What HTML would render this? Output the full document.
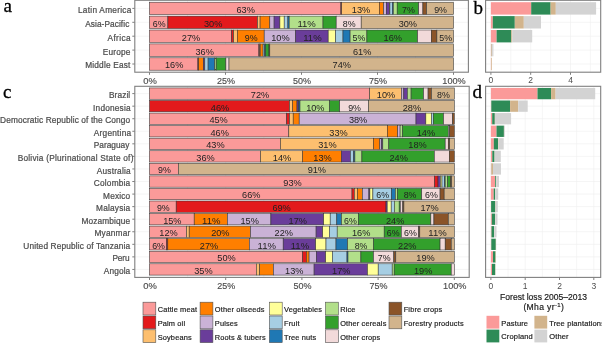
<!DOCTYPE html>
<html><head><meta charset="utf-8"><style>
html,body{margin:0;padding:0;background:#fff;}
body{width:602px;height:343px;overflow:hidden;font-family:"Liberation Sans",sans-serif;}
svg{display:block;will-change:transform;}
</style></head><body>
<svg width="602" height="343" viewBox="0 0 602 343" font-family="'Liberation Sans', sans-serif">
<rect width="602" height="343" fill="#fff"/>
<line x1="134.8" y1="8.4" x2="468.4" y2="8.4" stroke="#EFEFEF" stroke-width="0.6"/>
<line x1="134.8" y1="22.3" x2="468.4" y2="22.3" stroke="#EFEFEF" stroke-width="0.6"/>
<line x1="134.8" y1="36.2" x2="468.4" y2="36.2" stroke="#EFEFEF" stroke-width="0.6"/>
<line x1="134.8" y1="50.1" x2="468.4" y2="50.1" stroke="#EFEFEF" stroke-width="0.6"/>
<line x1="134.8" y1="64" x2="468.4" y2="64" stroke="#EFEFEF" stroke-width="0.6"/>
<line x1="149.5" y1="0.3" x2="149.5" y2="72.2" stroke="#EFEFEF" stroke-width="0.6"/>
<line x1="187.5" y1="0.3" x2="187.5" y2="72.2" stroke="#EFEFEF" stroke-width="0.6"/>
<line x1="225.5" y1="0.3" x2="225.5" y2="72.2" stroke="#EFEFEF" stroke-width="0.6"/>
<line x1="263.5" y1="0.3" x2="263.5" y2="72.2" stroke="#EFEFEF" stroke-width="0.6"/>
<line x1="301.5" y1="0.3" x2="301.5" y2="72.2" stroke="#EFEFEF" stroke-width="0.6"/>
<line x1="339.5" y1="0.3" x2="339.5" y2="72.2" stroke="#EFEFEF" stroke-width="0.6"/>
<line x1="377.5" y1="0.3" x2="377.5" y2="72.2" stroke="#EFEFEF" stroke-width="0.6"/>
<line x1="415.5" y1="0.3" x2="415.5" y2="72.2" stroke="#EFEFEF" stroke-width="0.6"/>
<line x1="453.5" y1="0.3" x2="453.5" y2="72.2" stroke="#EFEFEF" stroke-width="0.6"/>
<line x1="134.8" y1="93.6" x2="469.2" y2="93.6" stroke="#EFEFEF" stroke-width="0.6"/>
<line x1="134.8" y1="106.16" x2="469.2" y2="106.16" stroke="#EFEFEF" stroke-width="0.6"/>
<line x1="134.8" y1="118.72" x2="469.2" y2="118.72" stroke="#EFEFEF" stroke-width="0.6"/>
<line x1="134.8" y1="131.28" x2="469.2" y2="131.28" stroke="#EFEFEF" stroke-width="0.6"/>
<line x1="134.8" y1="143.84" x2="469.2" y2="143.84" stroke="#EFEFEF" stroke-width="0.6"/>
<line x1="134.8" y1="156.4" x2="469.2" y2="156.4" stroke="#EFEFEF" stroke-width="0.6"/>
<line x1="134.8" y1="168.96" x2="469.2" y2="168.96" stroke="#EFEFEF" stroke-width="0.6"/>
<line x1="134.8" y1="181.52" x2="469.2" y2="181.52" stroke="#EFEFEF" stroke-width="0.6"/>
<line x1="134.8" y1="194.08" x2="469.2" y2="194.08" stroke="#EFEFEF" stroke-width="0.6"/>
<line x1="134.8" y1="206.64" x2="469.2" y2="206.64" stroke="#EFEFEF" stroke-width="0.6"/>
<line x1="134.8" y1="219.2" x2="469.2" y2="219.2" stroke="#EFEFEF" stroke-width="0.6"/>
<line x1="134.8" y1="231.76" x2="469.2" y2="231.76" stroke="#EFEFEF" stroke-width="0.6"/>
<line x1="134.8" y1="244.32" x2="469.2" y2="244.32" stroke="#EFEFEF" stroke-width="0.6"/>
<line x1="134.8" y1="256.88" x2="469.2" y2="256.88" stroke="#EFEFEF" stroke-width="0.6"/>
<line x1="134.8" y1="269.44" x2="469.2" y2="269.44" stroke="#EFEFEF" stroke-width="0.6"/>
<line x1="149.5" y1="86.3" x2="149.5" y2="277.4" stroke="#EFEFEF" stroke-width="0.6"/>
<line x1="187.6" y1="86.3" x2="187.6" y2="277.4" stroke="#EFEFEF" stroke-width="0.6"/>
<line x1="225.7" y1="86.3" x2="225.7" y2="277.4" stroke="#EFEFEF" stroke-width="0.6"/>
<line x1="263.8" y1="86.3" x2="263.8" y2="277.4" stroke="#EFEFEF" stroke-width="0.6"/>
<line x1="301.9" y1="86.3" x2="301.9" y2="277.4" stroke="#EFEFEF" stroke-width="0.6"/>
<line x1="340" y1="86.3" x2="340" y2="277.4" stroke="#EFEFEF" stroke-width="0.6"/>
<line x1="378.1" y1="86.3" x2="378.1" y2="277.4" stroke="#EFEFEF" stroke-width="0.6"/>
<line x1="416.2" y1="86.3" x2="416.2" y2="277.4" stroke="#EFEFEF" stroke-width="0.6"/>
<line x1="454.3" y1="86.3" x2="454.3" y2="277.4" stroke="#EFEFEF" stroke-width="0.6"/>
<rect x="149.5" y="2.2" width="191.4" height="12.4" fill="#FB9A99" stroke="#333333" stroke-width="0.55"/>
<rect x="340.9" y="2.2" width="0.8" height="12.4" fill="#E31A1C" stroke="#333333" stroke-width="0.55"/>
<rect x="341.7" y="2.2" width="37.6" height="12.4" fill="#FDBF6F" stroke="#333333" stroke-width="0.55"/>
<rect x="379.3" y="2.2" width="4.3" height="12.4" fill="#FF7F00" stroke="#333333" stroke-width="0.55"/>
<rect x="383.6" y="2.2" width="2.7" height="12.4" fill="#CAB2D6" stroke="#333333" stroke-width="0.55"/>
<rect x="386.3" y="2.2" width="3" height="12.4" fill="#6A3D9A" stroke="#333333" stroke-width="0.55"/>
<rect x="389.3" y="2.2" width="0.6" height="12.4" fill="#FFFF99" stroke="#333333" stroke-width="0.55"/>
<rect x="389.9" y="2.2" width="2.4" height="12.4" fill="#A6CEE3" stroke="#333333" stroke-width="0.55"/>
<rect x="392.3" y="2.2" width="1" height="12.4" fill="#1F78B4" stroke="#333333" stroke-width="0.55"/>
<rect x="393.3" y="2.2" width="3.9" height="12.4" fill="#B2DF8A" stroke="#333333" stroke-width="0.55"/>
<rect x="397.2" y="2.2" width="21.5" height="12.4" fill="#33A02C" stroke="#333333" stroke-width="0.55"/>
<rect x="418.7" y="2.2" width="4.2" height="12.4" fill="#F2DADA" stroke="#333333" stroke-width="0.55"/>
<rect x="422.9" y="2.2" width="3.7" height="12.4" fill="#8B5428" stroke="#333333" stroke-width="0.55"/>
<rect x="426.6" y="2.2" width="26.9" height="12.4" fill="#D2B48C" stroke="#333333" stroke-width="0.55"/>
<text x="245.7" y="12.8" text-anchor="middle" font-size="9.3" fill="#222222" textLength="18.4" lengthAdjust="spacingAndGlyphs">63%</text>
<text x="361" y="12.8" text-anchor="middle" font-size="9.3" fill="#222222" textLength="18.4" lengthAdjust="spacingAndGlyphs">13%</text>
<text x="408.45" y="12.8" text-anchor="middle" font-size="9.3" fill="#222222" textLength="12.8" lengthAdjust="spacingAndGlyphs">7%</text>
<text x="440.55" y="12.8" text-anchor="middle" font-size="9.3" fill="#222222" textLength="12.8" lengthAdjust="spacingAndGlyphs">9%</text>
<rect x="149.5" y="16.1" width="18.4" height="12.4" fill="#FB9A99" stroke="#333333" stroke-width="0.55"/>
<rect x="167.9" y="16.1" width="89.6" height="12.4" fill="#E31A1C" stroke="#333333" stroke-width="0.55"/>
<rect x="257.5" y="16.1" width="2.6" height="12.4" fill="#FDBF6F" stroke="#333333" stroke-width="0.55"/>
<rect x="260.1" y="16.1" width="9.7" height="12.4" fill="#FF7F00" stroke="#333333" stroke-width="0.55"/>
<rect x="269.8" y="16.1" width="4.3" height="12.4" fill="#CAB2D6" stroke="#333333" stroke-width="0.55"/>
<rect x="274.1" y="16.1" width="5.8" height="12.4" fill="#6A3D9A" stroke="#333333" stroke-width="0.55"/>
<rect x="279.9" y="16.1" width="4.3" height="12.4" fill="#FFFF99" stroke="#333333" stroke-width="0.55"/>
<rect x="284.2" y="16.1" width="3.7" height="12.4" fill="#A6CEE3" stroke="#333333" stroke-width="0.55"/>
<rect x="287.9" y="16.1" width="1.3" height="12.4" fill="#1F78B4" stroke="#333333" stroke-width="0.55"/>
<rect x="289.2" y="16.1" width="33.8" height="12.4" fill="#B2DF8A" stroke="#333333" stroke-width="0.55"/>
<rect x="323" y="16.1" width="13.2" height="12.4" fill="#33A02C" stroke="#333333" stroke-width="0.55"/>
<rect x="336.2" y="16.1" width="25" height="12.4" fill="#F2DADA" stroke="#333333" stroke-width="0.55"/>
<rect x="361.2" y="16.1" width="92.3" height="12.4" fill="#D2B48C" stroke="#333333" stroke-width="0.55"/>
<text x="159.2" y="26.7" text-anchor="middle" font-size="9.3" fill="#222222" textLength="12.8" lengthAdjust="spacingAndGlyphs">6%</text>
<text x="213.2" y="26.7" text-anchor="middle" font-size="9.3" fill="#222222" textLength="18.4" lengthAdjust="spacingAndGlyphs">30%</text>
<text x="306.6" y="26.7" text-anchor="middle" font-size="9.3" fill="#222222" textLength="18.4" lengthAdjust="spacingAndGlyphs">11%</text>
<text x="349.2" y="26.7" text-anchor="middle" font-size="9.3" fill="#222222" textLength="12.8" lengthAdjust="spacingAndGlyphs">8%</text>
<text x="407.85" y="26.7" text-anchor="middle" font-size="9.3" fill="#222222" textLength="18.4" lengthAdjust="spacingAndGlyphs">30%</text>
<rect x="149.5" y="30" width="82.1" height="12.4" fill="#FB9A99" stroke="#333333" stroke-width="0.55"/>
<rect x="231.6" y="30" width="2" height="12.4" fill="#E31A1C" stroke="#333333" stroke-width="0.55"/>
<rect x="233.6" y="30" width="3.7" height="12.4" fill="#FDBF6F" stroke="#333333" stroke-width="0.55"/>
<rect x="237.3" y="30" width="26.9" height="12.4" fill="#FF7F00" stroke="#333333" stroke-width="0.55"/>
<rect x="264.2" y="30" width="31.5" height="12.4" fill="#CAB2D6" stroke="#333333" stroke-width="0.55"/>
<rect x="295.7" y="30" width="32.5" height="12.4" fill="#6A3D9A" stroke="#333333" stroke-width="0.55"/>
<rect x="328.2" y="30" width="7.4" height="12.4" fill="#FFFF99" stroke="#333333" stroke-width="0.55"/>
<rect x="335.6" y="30" width="7.4" height="12.4" fill="#A6CEE3" stroke="#333333" stroke-width="0.55"/>
<rect x="343" y="30" width="7.1" height="12.4" fill="#1F78B4" stroke="#333333" stroke-width="0.55"/>
<rect x="350.1" y="30" width="16.8" height="12.4" fill="#B2DF8A" stroke="#333333" stroke-width="0.55"/>
<rect x="366.9" y="30" width="50.7" height="12.4" fill="#33A02C" stroke="#333333" stroke-width="0.55"/>
<rect x="417.6" y="30" width="13.7" height="12.4" fill="#F2DADA" stroke="#333333" stroke-width="0.55"/>
<rect x="431.3" y="30" width="5.6" height="12.4" fill="#8B5428" stroke="#333333" stroke-width="0.55"/>
<rect x="436.9" y="30" width="16.6" height="12.4" fill="#D2B48C" stroke="#333333" stroke-width="0.55"/>
<text x="191.05" y="40.6" text-anchor="middle" font-size="9.3" fill="#222222" textLength="18.4" lengthAdjust="spacingAndGlyphs">27%</text>
<text x="251.25" y="40.6" text-anchor="middle" font-size="9.3" fill="#222222" textLength="12.8" lengthAdjust="spacingAndGlyphs">9%</text>
<text x="280.45" y="40.6" text-anchor="middle" font-size="9.3" fill="#222222" textLength="18.4" lengthAdjust="spacingAndGlyphs">10%</text>
<text x="312.45" y="40.6" text-anchor="middle" font-size="9.3" fill="#222222" textLength="18.4" lengthAdjust="spacingAndGlyphs">11%</text>
<text x="359" y="40.6" text-anchor="middle" font-size="9.3" fill="#222222" textLength="12.8" lengthAdjust="spacingAndGlyphs">5%</text>
<text x="392.75" y="40.6" text-anchor="middle" font-size="9.3" fill="#222222" textLength="18.4" lengthAdjust="spacingAndGlyphs">16%</text>
<text x="445.7" y="40.6" text-anchor="middle" font-size="9.3" fill="#222222" textLength="12.8" lengthAdjust="spacingAndGlyphs">5%</text>
<rect x="149.5" y="43.9" width="109.4" height="12.4" fill="#FB9A99" stroke="#333333" stroke-width="0.55"/>
<rect x="258.9" y="43.9" width="0.7" height="12.4" fill="#E31A1C" stroke="#333333" stroke-width="0.55"/>
<rect x="259.6" y="43.9" width="0.6" height="12.4" fill="#FDBF6F" stroke="#333333" stroke-width="0.55"/>
<rect x="260.2" y="43.9" width="2.9" height="12.4" fill="#FF7F00" stroke="#333333" stroke-width="0.55"/>
<rect x="263.1" y="43.9" width="1.4" height="12.4" fill="#A6CEE3" stroke="#333333" stroke-width="0.55"/>
<rect x="264.5" y="43.9" width="1.1" height="12.4" fill="#1F78B4" stroke="#333333" stroke-width="0.55"/>
<rect x="265.6" y="43.9" width="3.4" height="12.4" fill="#33A02C" stroke="#333333" stroke-width="0.55"/>
<rect x="269" y="43.9" width="0.8" height="12.4" fill="#8B5428" stroke="#333333" stroke-width="0.55"/>
<rect x="269.8" y="43.9" width="183.7" height="12.4" fill="#D2B48C" stroke="#333333" stroke-width="0.55"/>
<text x="204.7" y="54.5" text-anchor="middle" font-size="9.3" fill="#222222" textLength="18.4" lengthAdjust="spacingAndGlyphs">36%</text>
<text x="362.15" y="54.5" text-anchor="middle" font-size="9.3" fill="#222222" textLength="18.4" lengthAdjust="spacingAndGlyphs">61%</text>
<rect x="149.5" y="57.8" width="48.4" height="12.4" fill="#FB9A99" stroke="#333333" stroke-width="0.55"/>
<rect x="197.9" y="57.8" width="0.8" height="12.4" fill="#E31A1C" stroke="#333333" stroke-width="0.55"/>
<rect x="198.7" y="57.8" width="4.6" height="12.4" fill="#FF7F00" stroke="#333333" stroke-width="0.55"/>
<rect x="203.3" y="57.8" width="1.5" height="12.4" fill="#6A3D9A" stroke="#333333" stroke-width="0.55"/>
<rect x="204.8" y="57.8" width="3.3" height="12.4" fill="#A6CEE3" stroke="#333333" stroke-width="0.55"/>
<rect x="208.1" y="57.8" width="6.7" height="12.4" fill="#1F78B4" stroke="#333333" stroke-width="0.55"/>
<rect x="214.8" y="57.8" width="1.4" height="12.4" fill="#B2DF8A" stroke="#333333" stroke-width="0.55"/>
<rect x="216.2" y="57.8" width="9.7" height="12.4" fill="#33A02C" stroke="#333333" stroke-width="0.55"/>
<rect x="225.9" y="57.8" width="3.1" height="12.4" fill="#F2DADA" stroke="#333333" stroke-width="0.55"/>
<rect x="229" y="57.8" width="224.5" height="12.4" fill="#D2B48C" stroke="#333333" stroke-width="0.55"/>
<text x="174.2" y="68.4" text-anchor="middle" font-size="9.3" fill="#222222" textLength="18.4" lengthAdjust="spacingAndGlyphs">16%</text>
<text x="341.75" y="68.4" text-anchor="middle" font-size="9.3" fill="#222222" textLength="18.4" lengthAdjust="spacingAndGlyphs">74%</text>
<rect x="149.5" y="87.95" width="220.1" height="11.3" fill="#FB9A99" stroke="#333333" stroke-width="0.55"/>
<rect x="369.6" y="87.95" width="31.8" height="11.3" fill="#FDBF6F" stroke="#333333" stroke-width="0.55"/>
<rect x="401.4" y="87.95" width="2.4" height="11.3" fill="#CAB2D6" stroke="#333333" stroke-width="0.55"/>
<rect x="403.8" y="87.95" width="3.6" height="11.3" fill="#6A3D9A" stroke="#333333" stroke-width="0.55"/>
<rect x="407.4" y="87.95" width="3.7" height="11.3" fill="#B2DF8A" stroke="#333333" stroke-width="0.55"/>
<rect x="411.1" y="87.95" width="12.48" height="11.3" fill="#33A02C" stroke="#333333" stroke-width="0.55"/>
<rect x="423.58" y="87.95" width="4.51" height="11.3" fill="#F2DADA" stroke="#333333" stroke-width="0.55"/>
<rect x="428.09" y="87.95" width="3.38" height="11.3" fill="#8B5428" stroke="#333333" stroke-width="0.55"/>
<rect x="431.47" y="87.95" width="22.83" height="11.3" fill="#D2B48C" stroke="#333333" stroke-width="0.55"/>
<text x="260.05" y="98" text-anchor="middle" font-size="9.3" fill="#222222" textLength="18.4" lengthAdjust="spacingAndGlyphs">72%</text>
<text x="386" y="98" text-anchor="middle" font-size="9.3" fill="#222222" textLength="18.4" lengthAdjust="spacingAndGlyphs">10%</text>
<text x="443.38" y="98" text-anchor="middle" font-size="9.3" fill="#222222" textLength="12.8" lengthAdjust="spacingAndGlyphs">8%</text>
<rect x="149.5" y="100.51" width="140" height="11.3" fill="#E31A1C" stroke="#333333" stroke-width="0.55"/>
<rect x="289.5" y="100.51" width="3" height="11.3" fill="#FDBF6F" stroke="#333333" stroke-width="0.55"/>
<rect x="292.5" y="100.51" width="4.5" height="11.3" fill="#FF7F00" stroke="#333333" stroke-width="0.55"/>
<rect x="297" y="100.51" width="1.7" height="11.3" fill="#6A3D9A" stroke="#333333" stroke-width="0.55"/>
<rect x="298.7" y="100.51" width="1.3" height="11.3" fill="#1F78B4" stroke="#333333" stroke-width="0.55"/>
<rect x="300" y="100.51" width="29.7" height="11.3" fill="#B2DF8A" stroke="#333333" stroke-width="0.55"/>
<rect x="329.7" y="100.51" width="10" height="11.3" fill="#33A02C" stroke="#333333" stroke-width="0.55"/>
<rect x="339.7" y="100.51" width="28.8" height="11.3" fill="#F2DADA" stroke="#333333" stroke-width="0.55"/>
<rect x="368.5" y="100.51" width="85.8" height="11.3" fill="#D2B48C" stroke="#333333" stroke-width="0.55"/>
<text x="220" y="110.56" text-anchor="middle" font-size="9.3" fill="#222222" textLength="18.4" lengthAdjust="spacingAndGlyphs">46%</text>
<text x="315.35" y="110.56" text-anchor="middle" font-size="9.3" fill="#222222" textLength="18.4" lengthAdjust="spacingAndGlyphs">10%</text>
<text x="354.6" y="110.56" text-anchor="middle" font-size="9.3" fill="#222222" textLength="12.8" lengthAdjust="spacingAndGlyphs">9%</text>
<text x="411.9" y="110.56" text-anchor="middle" font-size="9.3" fill="#222222" textLength="18.4" lengthAdjust="spacingAndGlyphs">28%</text>
<rect x="149.5" y="113.07" width="137.2" height="11.3" fill="#FB9A99" stroke="#333333" stroke-width="0.55"/>
<rect x="286.7" y="113.07" width="2.8" height="11.3" fill="#E31A1C" stroke="#333333" stroke-width="0.55"/>
<rect x="289.5" y="113.07" width="3.7" height="11.3" fill="#FDBF6F" stroke="#333333" stroke-width="0.55"/>
<rect x="293.2" y="113.07" width="6" height="11.3" fill="#FF7F00" stroke="#333333" stroke-width="0.55"/>
<rect x="299.2" y="113.07" width="116.8" height="11.3" fill="#CAB2D6" stroke="#333333" stroke-width="0.55"/>
<rect x="416" y="113.07" width="9.84" height="11.3" fill="#6A3D9A" stroke="#333333" stroke-width="0.55"/>
<rect x="425.84" y="113.07" width="5.63" height="11.3" fill="#FFFF99" stroke="#333333" stroke-width="0.55"/>
<rect x="431.47" y="113.07" width="1.84" height="11.3" fill="#A6CEE3" stroke="#333333" stroke-width="0.55"/>
<rect x="433.31" y="113.07" width="10.24" height="11.3" fill="#33A02C" stroke="#333333" stroke-width="0.55"/>
<rect x="443.55" y="113.07" width="9.01" height="11.3" fill="#F2DADA" stroke="#333333" stroke-width="0.55"/>
<rect x="452.56" y="113.07" width="1.74" height="11.3" fill="#8B5428" stroke="#333333" stroke-width="0.55"/>
<text x="218.6" y="123.12" text-anchor="middle" font-size="9.3" fill="#222222" textLength="18.4" lengthAdjust="spacingAndGlyphs">45%</text>
<text x="358.1" y="123.12" text-anchor="middle" font-size="9.3" fill="#222222" textLength="18.4" lengthAdjust="spacingAndGlyphs">38%</text>
<rect x="149.5" y="125.63" width="139.3" height="11.3" fill="#FB9A99" stroke="#333333" stroke-width="0.55"/>
<rect x="288.8" y="125.63" width="98.5" height="11.3" fill="#FDBF6F" stroke="#333333" stroke-width="0.55"/>
<rect x="387.3" y="125.63" width="10.4" height="11.3" fill="#FF7F00" stroke="#333333" stroke-width="0.55"/>
<rect x="397.7" y="125.63" width="2.4" height="11.3" fill="#CAB2D6" stroke="#333333" stroke-width="0.55"/>
<rect x="400.1" y="125.63" width="2.4" height="11.3" fill="#B2DF8A" stroke="#333333" stroke-width="0.55"/>
<rect x="402.5" y="125.63" width="45.76" height="11.3" fill="#33A02C" stroke="#333333" stroke-width="0.55"/>
<rect x="448.26" y="125.63" width="1.43" height="11.3" fill="#F2DADA" stroke="#333333" stroke-width="0.55"/>
<rect x="449.69" y="125.63" width="4.61" height="11.3" fill="#8B5428" stroke="#333333" stroke-width="0.55"/>
<text x="219.65" y="135.68" text-anchor="middle" font-size="9.3" fill="#222222" textLength="18.4" lengthAdjust="spacingAndGlyphs">46%</text>
<text x="338.55" y="135.68" text-anchor="middle" font-size="9.3" fill="#222222" textLength="18.4" lengthAdjust="spacingAndGlyphs">33%</text>
<text x="425.88" y="135.68" text-anchor="middle" font-size="9.3" fill="#222222" textLength="18.4" lengthAdjust="spacingAndGlyphs">14%</text>
<rect x="149.5" y="138.19" width="130.9" height="11.3" fill="#FB9A99" stroke="#333333" stroke-width="0.55"/>
<rect x="280.4" y="138.19" width="93.1" height="11.3" fill="#FDBF6F" stroke="#333333" stroke-width="0.55"/>
<rect x="373.5" y="138.19" width="6.3" height="11.3" fill="#FF7F00" stroke="#333333" stroke-width="0.55"/>
<rect x="379.8" y="138.19" width="1.5" height="11.3" fill="#CAB2D6" stroke="#333333" stroke-width="0.55"/>
<rect x="381.3" y="138.19" width="1.5" height="11.3" fill="#6A3D9A" stroke="#333333" stroke-width="0.55"/>
<rect x="382.8" y="138.19" width="6" height="11.3" fill="#B2DF8A" stroke="#333333" stroke-width="0.55"/>
<rect x="388.8" y="138.19" width="56.39" height="11.3" fill="#33A02C" stroke="#333333" stroke-width="0.55"/>
<rect x="445.19" y="138.19" width="3.07" height="11.3" fill="#F2DADA" stroke="#333333" stroke-width="0.55"/>
<rect x="448.26" y="138.19" width="1.43" height="11.3" fill="#8B5428" stroke="#333333" stroke-width="0.55"/>
<rect x="449.69" y="138.19" width="4.61" height="11.3" fill="#D2B48C" stroke="#333333" stroke-width="0.55"/>
<text x="215.45" y="148.24" text-anchor="middle" font-size="9.3" fill="#222222" textLength="18.4" lengthAdjust="spacingAndGlyphs">43%</text>
<text x="327.45" y="148.24" text-anchor="middle" font-size="9.3" fill="#222222" textLength="18.4" lengthAdjust="spacingAndGlyphs">31%</text>
<text x="417.49" y="148.24" text-anchor="middle" font-size="9.3" fill="#222222" textLength="18.4" lengthAdjust="spacingAndGlyphs">18%</text>
<rect x="149.5" y="150.75" width="111" height="11.3" fill="#FB9A99" stroke="#333333" stroke-width="0.55"/>
<rect x="260.5" y="150.75" width="42" height="11.3" fill="#FDBF6F" stroke="#333333" stroke-width="0.55"/>
<rect x="302.5" y="150.75" width="39" height="11.3" fill="#FF7F00" stroke="#333333" stroke-width="0.55"/>
<rect x="341.5" y="150.75" width="8.9" height="11.3" fill="#6A3D9A" stroke="#333333" stroke-width="0.55"/>
<rect x="350.4" y="150.75" width="3.3" height="11.3" fill="#A6CEE3" stroke="#333333" stroke-width="0.55"/>
<rect x="353.7" y="150.75" width="1.2" height="11.3" fill="#1F78B4" stroke="#333333" stroke-width="0.55"/>
<rect x="354.9" y="150.75" width="7" height="11.3" fill="#B2DF8A" stroke="#333333" stroke-width="0.55"/>
<rect x="361.9" y="150.75" width="72.43" height="11.3" fill="#33A02C" stroke="#333333" stroke-width="0.55"/>
<rect x="434.33" y="150.75" width="14.95" height="11.3" fill="#F2DADA" stroke="#333333" stroke-width="0.55"/>
<rect x="449.28" y="150.75" width="5.02" height="11.3" fill="#8B5428" stroke="#333333" stroke-width="0.55"/>
<text x="205.5" y="160.8" text-anchor="middle" font-size="9.3" fill="#222222" textLength="18.4" lengthAdjust="spacingAndGlyphs">36%</text>
<text x="282" y="160.8" text-anchor="middle" font-size="9.3" fill="#222222" textLength="18.4" lengthAdjust="spacingAndGlyphs">14%</text>
<text x="322.5" y="160.8" text-anchor="middle" font-size="9.3" fill="#222222" textLength="18.4" lengthAdjust="spacingAndGlyphs">13%</text>
<text x="398.62" y="160.8" text-anchor="middle" font-size="9.3" fill="#222222" textLength="18.4" lengthAdjust="spacingAndGlyphs">24%</text>
<rect x="149.5" y="163.31" width="28.9" height="11.3" fill="#FB9A99" stroke="#333333" stroke-width="0.55"/>
<rect x="178.4" y="163.31" width="275.9" height="11.3" fill="#D2B48C" stroke="#333333" stroke-width="0.55"/>
<text x="164.45" y="173.36" text-anchor="middle" font-size="9.3" fill="#222222" textLength="12.8" lengthAdjust="spacingAndGlyphs">9%</text>
<text x="316.85" y="173.36" text-anchor="middle" font-size="9.3" fill="#222222" textLength="18.4" lengthAdjust="spacingAndGlyphs">91%</text>
<rect x="149.5" y="175.87" width="285.14" height="11.3" fill="#FB9A99" stroke="#333333" stroke-width="0.55"/>
<rect x="434.64" y="175.87" width="3.38" height="11.3" fill="#E31A1C" stroke="#333333" stroke-width="0.55"/>
<rect x="438.02" y="175.87" width="2.35" height="11.3" fill="#6A3D9A" stroke="#333333" stroke-width="0.55"/>
<rect x="440.38" y="175.87" width="1.64" height="11.3" fill="#FFFF99" stroke="#333333" stroke-width="0.55"/>
<rect x="442.01" y="175.87" width="2.46" height="11.3" fill="#A6CEE3" stroke="#333333" stroke-width="0.55"/>
<rect x="444.47" y="175.87" width="0.72" height="11.3" fill="#1F78B4" stroke="#333333" stroke-width="0.55"/>
<rect x="445.19" y="175.87" width="2.35" height="11.3" fill="#B2DF8A" stroke="#333333" stroke-width="0.55"/>
<rect x="447.54" y="175.87" width="3.07" height="11.3" fill="#33A02C" stroke="#333333" stroke-width="0.55"/>
<rect x="450.61" y="175.87" width="1.02" height="11.3" fill="#8B5428" stroke="#333333" stroke-width="0.55"/>
<rect x="451.64" y="175.87" width="2.66" height="11.3" fill="#D2B48C" stroke="#333333" stroke-width="0.55"/>
<text x="292.57" y="185.92" text-anchor="middle" font-size="9.3" fill="#222222" textLength="18.4" lengthAdjust="spacingAndGlyphs">93%</text>
<rect x="149.5" y="188.43" width="202.5" height="11.3" fill="#FB9A99" stroke="#333333" stroke-width="0.55"/>
<rect x="352" y="188.43" width="2.3" height="11.3" fill="#E31A1C" stroke="#333333" stroke-width="0.55"/>
<rect x="354.3" y="188.43" width="3" height="11.3" fill="#FDBF6F" stroke="#333333" stroke-width="0.55"/>
<rect x="357.3" y="188.43" width="5" height="11.3" fill="#FF7F00" stroke="#333333" stroke-width="0.55"/>
<rect x="362.3" y="188.43" width="6.6" height="11.3" fill="#CAB2D6" stroke="#333333" stroke-width="0.55"/>
<rect x="368.9" y="188.43" width="1" height="11.3" fill="#6A3D9A" stroke="#333333" stroke-width="0.55"/>
<rect x="369.9" y="188.43" width="3" height="11.3" fill="#FFFF99" stroke="#333333" stroke-width="0.55"/>
<rect x="372.9" y="188.43" width="18.5" height="11.3" fill="#A6CEE3" stroke="#333333" stroke-width="0.55"/>
<rect x="391.4" y="188.43" width="4" height="11.3" fill="#1F78B4" stroke="#333333" stroke-width="0.55"/>
<rect x="395.4" y="188.43" width="2" height="11.3" fill="#B2DF8A" stroke="#333333" stroke-width="0.55"/>
<rect x="397.4" y="188.43" width="24.34" height="11.3" fill="#33A02C" stroke="#333333" stroke-width="0.55"/>
<rect x="421.74" y="188.43" width="18.33" height="11.3" fill="#F2DADA" stroke="#333333" stroke-width="0.55"/>
<rect x="440.07" y="188.43" width="4.1" height="11.3" fill="#8B5428" stroke="#333333" stroke-width="0.55"/>
<rect x="444.16" y="188.43" width="10.14" height="11.3" fill="#D2B48C" stroke="#333333" stroke-width="0.55"/>
<text x="251.25" y="198.48" text-anchor="middle" font-size="9.3" fill="#222222" textLength="18.4" lengthAdjust="spacingAndGlyphs">66%</text>
<text x="382.65" y="198.48" text-anchor="middle" font-size="9.3" fill="#222222" textLength="12.8" lengthAdjust="spacingAndGlyphs">6%</text>
<text x="410.07" y="198.48" text-anchor="middle" font-size="9.3" fill="#222222" textLength="12.8" lengthAdjust="spacingAndGlyphs">8%</text>
<text x="431.4" y="198.48" text-anchor="middle" font-size="9.3" fill="#222222" textLength="12.8" lengthAdjust="spacingAndGlyphs">6%</text>
<rect x="149.5" y="200.99" width="26.7" height="11.3" fill="#FB9A99" stroke="#333333" stroke-width="0.55"/>
<rect x="176.2" y="200.99" width="209.8" height="11.3" fill="#E31A1C" stroke="#333333" stroke-width="0.55"/>
<rect x="386" y="200.99" width="1.2" height="11.3" fill="#6A3D9A" stroke="#333333" stroke-width="0.55"/>
<rect x="387.2" y="200.99" width="4" height="11.3" fill="#FFFF99" stroke="#333333" stroke-width="0.55"/>
<rect x="391.2" y="200.99" width="3.2" height="11.3" fill="#A6CEE3" stroke="#333333" stroke-width="0.55"/>
<rect x="394.4" y="200.99" width="4.8" height="11.3" fill="#B2DF8A" stroke="#333333" stroke-width="0.55"/>
<rect x="399.2" y="200.99" width="1.1" height="11.3" fill="#33A02C" stroke="#333333" stroke-width="0.55"/>
<rect x="400.3" y="200.99" width="2.5" height="11.3" fill="#F2DADA" stroke="#333333" stroke-width="0.55"/>
<rect x="402.8" y="200.99" width="1.1" height="11.3" fill="#8B5428" stroke="#333333" stroke-width="0.55"/>
<rect x="403.9" y="200.99" width="50.4" height="11.3" fill="#D2B48C" stroke="#333333" stroke-width="0.55"/>
<text x="163.35" y="211.04" text-anchor="middle" font-size="9.3" fill="#222222" textLength="12.8" lengthAdjust="spacingAndGlyphs">9%</text>
<text x="281.6" y="211.04" text-anchor="middle" font-size="9.3" fill="#222222" textLength="18.4" lengthAdjust="spacingAndGlyphs">69%</text>
<text x="429.6" y="211.04" text-anchor="middle" font-size="9.3" fill="#222222" textLength="18.4" lengthAdjust="spacingAndGlyphs">17%</text>
<rect x="149.5" y="213.55" width="44.7" height="11.3" fill="#FB9A99" stroke="#333333" stroke-width="0.55"/>
<rect x="194.2" y="213.55" width="33.2" height="11.3" fill="#FF7F00" stroke="#333333" stroke-width="0.55"/>
<rect x="227.4" y="213.55" width="43.5" height="11.3" fill="#CAB2D6" stroke="#333333" stroke-width="0.55"/>
<rect x="270.9" y="213.55" width="52.8" height="11.3" fill="#6A3D9A" stroke="#333333" stroke-width="0.55"/>
<rect x="323.7" y="213.55" width="6.5" height="11.3" fill="#FFFF99" stroke="#333333" stroke-width="0.55"/>
<rect x="330.2" y="213.55" width="6.6" height="11.3" fill="#A6CEE3" stroke="#333333" stroke-width="0.55"/>
<rect x="336.8" y="213.55" width="4.7" height="11.3" fill="#1F78B4" stroke="#333333" stroke-width="0.55"/>
<rect x="341.5" y="213.55" width="16.9" height="11.3" fill="#B2DF8A" stroke="#333333" stroke-width="0.55"/>
<rect x="358.4" y="213.55" width="72.45" height="11.3" fill="#33A02C" stroke="#333333" stroke-width="0.55"/>
<rect x="430.85" y="213.55" width="3.07" height="11.3" fill="#F2DADA" stroke="#333333" stroke-width="0.55"/>
<rect x="433.92" y="213.55" width="14.33" height="11.3" fill="#8B5428" stroke="#333333" stroke-width="0.55"/>
<rect x="448.26" y="213.55" width="6.04" height="11.3" fill="#D2B48C" stroke="#333333" stroke-width="0.55"/>
<text x="172.35" y="223.6" text-anchor="middle" font-size="9.3" fill="#222222" textLength="18.4" lengthAdjust="spacingAndGlyphs">15%</text>
<text x="211.3" y="223.6" text-anchor="middle" font-size="9.3" fill="#222222" textLength="18.4" lengthAdjust="spacingAndGlyphs">11%</text>
<text x="249.65" y="223.6" text-anchor="middle" font-size="9.3" fill="#222222" textLength="18.4" lengthAdjust="spacingAndGlyphs">15%</text>
<text x="297.8" y="223.6" text-anchor="middle" font-size="9.3" fill="#222222" textLength="18.4" lengthAdjust="spacingAndGlyphs">17%</text>
<text x="350.45" y="223.6" text-anchor="middle" font-size="9.3" fill="#222222" textLength="12.8" lengthAdjust="spacingAndGlyphs">6%</text>
<text x="395.13" y="223.6" text-anchor="middle" font-size="9.3" fill="#222222" textLength="18.4" lengthAdjust="spacingAndGlyphs">24%</text>
<rect x="149.5" y="226.11" width="37" height="11.3" fill="#FB9A99" stroke="#333333" stroke-width="0.55"/>
<rect x="186.5" y="226.11" width="2.7" height="11.3" fill="#FDBF6F" stroke="#333333" stroke-width="0.55"/>
<rect x="189.2" y="226.11" width="61.3" height="11.3" fill="#FF7F00" stroke="#333333" stroke-width="0.55"/>
<rect x="250.5" y="226.11" width="65.6" height="11.3" fill="#CAB2D6" stroke="#333333" stroke-width="0.55"/>
<rect x="316.1" y="226.11" width="6.6" height="11.3" fill="#6A3D9A" stroke="#333333" stroke-width="0.55"/>
<rect x="322.7" y="226.11" width="6.6" height="11.3" fill="#FFFF99" stroke="#333333" stroke-width="0.55"/>
<rect x="329.3" y="226.11" width="7.9" height="11.3" fill="#A6CEE3" stroke="#333333" stroke-width="0.55"/>
<rect x="337.2" y="226.11" width="47" height="11.3" fill="#B2DF8A" stroke="#333333" stroke-width="0.55"/>
<rect x="384.2" y="226.11" width="17.1" height="11.3" fill="#33A02C" stroke="#333333" stroke-width="0.55"/>
<rect x="401.3" y="226.11" width="17.4" height="11.3" fill="#F2DADA" stroke="#333333" stroke-width="0.55"/>
<rect x="418.7" y="226.11" width="1.1" height="11.3" fill="#8B5428" stroke="#333333" stroke-width="0.55"/>
<rect x="419.8" y="226.11" width="34.5" height="11.3" fill="#D2B48C" stroke="#333333" stroke-width="0.55"/>
<text x="168.5" y="236.16" text-anchor="middle" font-size="9.3" fill="#222222" textLength="18.4" lengthAdjust="spacingAndGlyphs">12%</text>
<text x="220.35" y="236.16" text-anchor="middle" font-size="9.3" fill="#222222" textLength="18.4" lengthAdjust="spacingAndGlyphs">20%</text>
<text x="283.8" y="236.16" text-anchor="middle" font-size="9.3" fill="#222222" textLength="18.4" lengthAdjust="spacingAndGlyphs">22%</text>
<text x="361.2" y="236.16" text-anchor="middle" font-size="9.3" fill="#222222" textLength="18.4" lengthAdjust="spacingAndGlyphs">16%</text>
<text x="393.25" y="236.16" text-anchor="middle" font-size="9.3" fill="#222222" textLength="12.8" lengthAdjust="spacingAndGlyphs">6%</text>
<text x="410.5" y="236.16" text-anchor="middle" font-size="9.3" fill="#222222" textLength="12.8" lengthAdjust="spacingAndGlyphs">6%</text>
<text x="437.55" y="236.16" text-anchor="middle" font-size="9.3" fill="#222222" textLength="18.4" lengthAdjust="spacingAndGlyphs">11%</text>
<rect x="149.5" y="238.67" width="17.1" height="11.3" fill="#FB9A99" stroke="#333333" stroke-width="0.55"/>
<rect x="166.6" y="238.67" width="1.2" height="11.3" fill="#E31A1C" stroke="#333333" stroke-width="0.55"/>
<rect x="167.8" y="238.67" width="81.5" height="11.3" fill="#FF7F00" stroke="#333333" stroke-width="0.55"/>
<rect x="249.3" y="238.67" width="33.9" height="11.3" fill="#CAB2D6" stroke="#333333" stroke-width="0.55"/>
<rect x="283.2" y="238.67" width="32.5" height="11.3" fill="#6A3D9A" stroke="#333333" stroke-width="0.55"/>
<rect x="315.7" y="238.67" width="10.3" height="11.3" fill="#FFFF99" stroke="#333333" stroke-width="0.55"/>
<rect x="326" y="238.67" width="10" height="11.3" fill="#A6CEE3" stroke="#333333" stroke-width="0.55"/>
<rect x="336" y="238.67" width="11.6" height="11.3" fill="#1F78B4" stroke="#333333" stroke-width="0.55"/>
<rect x="347.6" y="238.67" width="25.9" height="11.3" fill="#B2DF8A" stroke="#333333" stroke-width="0.55"/>
<rect x="373.5" y="238.67" width="66.57" height="11.3" fill="#33A02C" stroke="#333333" stroke-width="0.55"/>
<rect x="440.07" y="238.67" width="5.12" height="11.3" fill="#F2DADA" stroke="#333333" stroke-width="0.55"/>
<rect x="445.19" y="238.67" width="6.04" height="11.3" fill="#8B5428" stroke="#333333" stroke-width="0.55"/>
<rect x="451.23" y="238.67" width="3.07" height="11.3" fill="#D2B48C" stroke="#333333" stroke-width="0.55"/>
<text x="158.55" y="248.72" text-anchor="middle" font-size="9.3" fill="#222222" textLength="12.8" lengthAdjust="spacingAndGlyphs">6%</text>
<text x="209.05" y="248.72" text-anchor="middle" font-size="9.3" fill="#222222" textLength="18.4" lengthAdjust="spacingAndGlyphs">27%</text>
<text x="266.75" y="248.72" text-anchor="middle" font-size="9.3" fill="#222222" textLength="18.4" lengthAdjust="spacingAndGlyphs">11%</text>
<text x="299.95" y="248.72" text-anchor="middle" font-size="9.3" fill="#222222" textLength="18.4" lengthAdjust="spacingAndGlyphs">11%</text>
<text x="361.05" y="248.72" text-anchor="middle" font-size="9.3" fill="#222222" textLength="12.8" lengthAdjust="spacingAndGlyphs">8%</text>
<text x="407.28" y="248.72" text-anchor="middle" font-size="9.3" fill="#222222" textLength="18.4" lengthAdjust="spacingAndGlyphs">22%</text>
<rect x="149.5" y="251.23" width="153" height="11.3" fill="#FB9A99" stroke="#333333" stroke-width="0.55"/>
<rect x="302.5" y="251.23" width="3.9" height="11.3" fill="#E31A1C" stroke="#333333" stroke-width="0.55"/>
<rect x="306.4" y="251.23" width="2.7" height="11.3" fill="#FF7F00" stroke="#333333" stroke-width="0.55"/>
<rect x="309.1" y="251.23" width="7.3" height="11.3" fill="#CAB2D6" stroke="#333333" stroke-width="0.55"/>
<rect x="316.4" y="251.23" width="9.3" height="11.3" fill="#6A3D9A" stroke="#333333" stroke-width="0.55"/>
<rect x="325.7" y="251.23" width="6.7" height="11.3" fill="#FFFF99" stroke="#333333" stroke-width="0.55"/>
<rect x="332.4" y="251.23" width="14.6" height="11.3" fill="#A6CEE3" stroke="#333333" stroke-width="0.55"/>
<rect x="347" y="251.23" width="1" height="11.3" fill="#1F78B4" stroke="#333333" stroke-width="0.55"/>
<rect x="348" y="251.23" width="12.9" height="11.3" fill="#B2DF8A" stroke="#333333" stroke-width="0.55"/>
<rect x="360.9" y="251.23" width="12.6" height="11.3" fill="#33A02C" stroke="#333333" stroke-width="0.55"/>
<rect x="373.5" y="251.23" width="20.3" height="11.3" fill="#F2DADA" stroke="#333333" stroke-width="0.55"/>
<rect x="393.8" y="251.23" width="2" height="11.3" fill="#8B5428" stroke="#333333" stroke-width="0.55"/>
<rect x="395.8" y="251.23" width="58.5" height="11.3" fill="#D2B48C" stroke="#333333" stroke-width="0.55"/>
<text x="226.5" y="261.28" text-anchor="middle" font-size="9.3" fill="#222222" textLength="18.4" lengthAdjust="spacingAndGlyphs">50%</text>
<text x="384.15" y="261.28" text-anchor="middle" font-size="9.3" fill="#222222" textLength="12.8" lengthAdjust="spacingAndGlyphs">7%</text>
<text x="425.55" y="261.28" text-anchor="middle" font-size="9.3" fill="#222222" textLength="18.4" lengthAdjust="spacingAndGlyphs">19%</text>
<rect x="149.5" y="263.79" width="106.8" height="11.3" fill="#FB9A99" stroke="#333333" stroke-width="0.55"/>
<rect x="256.3" y="263.79" width="3.3" height="11.3" fill="#FDBF6F" stroke="#333333" stroke-width="0.55"/>
<rect x="259.6" y="263.79" width="13.8" height="11.3" fill="#FF7F00" stroke="#333333" stroke-width="0.55"/>
<rect x="273.4" y="263.79" width="40.7" height="11.3" fill="#CAB2D6" stroke="#333333" stroke-width="0.55"/>
<rect x="314.1" y="263.79" width="53.4" height="11.3" fill="#6A3D9A" stroke="#333333" stroke-width="0.55"/>
<rect x="367.5" y="263.79" width="10.7" height="11.3" fill="#FFFF99" stroke="#333333" stroke-width="0.55"/>
<rect x="378.2" y="263.79" width="14" height="11.3" fill="#A6CEE3" stroke="#333333" stroke-width="0.55"/>
<rect x="392.2" y="263.79" width="2" height="11.3" fill="#B2DF8A" stroke="#333333" stroke-width="0.55"/>
<rect x="394.2" y="263.79" width="57.03" height="11.3" fill="#33A02C" stroke="#333333" stroke-width="0.55"/>
<rect x="451.23" y="263.79" width="3.07" height="11.3" fill="#F2DADA" stroke="#333333" stroke-width="0.55"/>
<text x="203.4" y="273.84" text-anchor="middle" font-size="9.3" fill="#222222" textLength="18.4" lengthAdjust="spacingAndGlyphs">35%</text>
<text x="294.25" y="273.84" text-anchor="middle" font-size="9.3" fill="#222222" textLength="18.4" lengthAdjust="spacingAndGlyphs">13%</text>
<text x="341.3" y="273.84" text-anchor="middle" font-size="9.3" fill="#222222" textLength="18.4" lengthAdjust="spacingAndGlyphs">17%</text>
<text x="423.21" y="273.84" text-anchor="middle" font-size="9.3" fill="#222222" textLength="18.4" lengthAdjust="spacingAndGlyphs">19%</text>
<rect x="134.8" y="0.3" width="333.6" height="71.9" fill="none" stroke="#7F7F7F" stroke-width="1.1"/>
<rect x="134.8" y="86.3" width="334.4" height="191.1" fill="none" stroke="#7F7F7F" stroke-width="1.1"/>
<line x1="132.3" y1="8.4" x2="134.8" y2="8.4" stroke="#7F7F7F" stroke-width="1"/>
<text x="131.3" y="12.8" text-anchor="end" font-size="8.3" fill="#4D4D4D" stroke="#4D4D4D" stroke-width="0.22" textLength="53.3" lengthAdjust="spacing">Latin America</text>
<line x1="132.3" y1="22.3" x2="134.8" y2="22.3" stroke="#7F7F7F" stroke-width="1"/>
<text x="129.3" y="26.7" text-anchor="end" font-size="8.3" fill="#4D4D4D" stroke="#4D4D4D" stroke-width="0.22" textLength="44.1" lengthAdjust="spacing">Asia-Pacific</text>
<line x1="132.3" y1="36.2" x2="134.8" y2="36.2" stroke="#7F7F7F" stroke-width="1"/>
<text x="130.6" y="40.6" text-anchor="end" font-size="8.3" fill="#4D4D4D" stroke="#4D4D4D" stroke-width="0.22" textLength="23.1" lengthAdjust="spacing">Africa</text>
<line x1="132.3" y1="50.1" x2="134.8" y2="50.1" stroke="#7F7F7F" stroke-width="1"/>
<text x="130.4" y="54.5" text-anchor="end" font-size="8.3" fill="#4D4D4D" stroke="#4D4D4D" stroke-width="0.22" textLength="27.7" lengthAdjust="spacing">Europe</text>
<line x1="132.3" y1="64" x2="134.8" y2="64" stroke="#7F7F7F" stroke-width="1"/>
<text x="130.4" y="68.4" text-anchor="end" font-size="8.3" fill="#4D4D4D" stroke="#4D4D4D" stroke-width="0.22" textLength="45.2" lengthAdjust="spacing">Middle East</text>
<line x1="132.3" y1="93.6" x2="134.8" y2="93.6" stroke="#7F7F7F" stroke-width="1"/>
<text x="130.2" y="98.2" text-anchor="end" font-size="8.3" fill="#4D4D4D" stroke="#4D4D4D" stroke-width="0.22" textLength="21.3" lengthAdjust="spacing">Brazil</text>
<line x1="132.3" y1="106.16" x2="134.8" y2="106.16" stroke="#7F7F7F" stroke-width="1"/>
<text x="130.6" y="110.76" text-anchor="end" font-size="8.3" fill="#4D4D4D" stroke="#4D4D4D" stroke-width="0.22" textLength="37.5" lengthAdjust="spacing">Indonesia</text>
<line x1="132.3" y1="118.72" x2="134.8" y2="118.72" stroke="#7F7F7F" stroke-width="1"/>
<text x="130.2" y="123.32" text-anchor="end" font-size="8.3" fill="#4D4D4D" stroke="#4D4D4D" stroke-width="0.22" textLength="130.1" lengthAdjust="spacing">Democratic Republic of the Congo</text>
<line x1="132.3" y1="131.28" x2="134.8" y2="131.28" stroke="#7F7F7F" stroke-width="1"/>
<text x="131.1" y="135.88" text-anchor="end" font-size="8.3" fill="#4D4D4D" stroke="#4D4D4D" stroke-width="0.22" textLength="37.3" lengthAdjust="spacing">Argentina</text>
<line x1="132.3" y1="143.84" x2="134.8" y2="143.84" stroke="#7F7F7F" stroke-width="1"/>
<text x="129.4" y="148.44" text-anchor="end" font-size="8.3" fill="#4D4D4D" stroke="#4D4D4D" stroke-width="0.22" textLength="35.6" lengthAdjust="spacing">Paraguay</text>
<line x1="132.3" y1="156.4" x2="134.8" y2="156.4" stroke="#7F7F7F" stroke-width="1"/>
<text x="133.4" y="161" text-anchor="end" font-size="8.3" fill="#4D4D4D" stroke="#4D4D4D" stroke-width="0.22" textLength="115.7" lengthAdjust="spacing">Bolivia (Plurinational State of)</text>
<line x1="132.3" y1="168.96" x2="134.8" y2="168.96" stroke="#7F7F7F" stroke-width="1"/>
<text x="130.6" y="173.56" text-anchor="end" font-size="8.3" fill="#4D4D4D" stroke="#4D4D4D" stroke-width="0.22" textLength="33.8" lengthAdjust="spacing">Australia</text>
<line x1="132.3" y1="181.52" x2="134.8" y2="181.52" stroke="#7F7F7F" stroke-width="1"/>
<text x="130.2" y="186.12" text-anchor="end" font-size="8.3" fill="#4D4D4D" stroke="#4D4D4D" stroke-width="0.22" textLength="36.4" lengthAdjust="spacing">Colombia</text>
<line x1="132.3" y1="194.08" x2="134.8" y2="194.08" stroke="#7F7F7F" stroke-width="1"/>
<text x="130.2" y="198.68" text-anchor="end" font-size="8.3" fill="#4D4D4D" stroke="#4D4D4D" stroke-width="0.22" textLength="27.1" lengthAdjust="spacing">Mexico</text>
<line x1="132.3" y1="206.64" x2="134.8" y2="206.64" stroke="#7F7F7F" stroke-width="1"/>
<text x="130.2" y="211.24" text-anchor="end" font-size="8.3" fill="#4D4D4D" stroke="#4D4D4D" stroke-width="0.22" textLength="34.1" lengthAdjust="spacing">Malaysia</text>
<line x1="132.3" y1="219.2" x2="134.8" y2="219.2" stroke="#7F7F7F" stroke-width="1"/>
<text x="130.2" y="223.8" text-anchor="end" font-size="8.3" fill="#4D4D4D" stroke="#4D4D4D" stroke-width="0.22" textLength="48.7" lengthAdjust="spacing">Mozambique</text>
<line x1="132.3" y1="231.76" x2="134.8" y2="231.76" stroke="#7F7F7F" stroke-width="1"/>
<text x="130.2" y="236.36" text-anchor="end" font-size="8.3" fill="#4D4D4D" stroke="#4D4D4D" stroke-width="0.22" textLength="35.7" lengthAdjust="spacing">Myanmar</text>
<line x1="132.3" y1="244.32" x2="134.8" y2="244.32" stroke="#7F7F7F" stroke-width="1"/>
<text x="130.2" y="248.92" text-anchor="end" font-size="8.3" fill="#4D4D4D" stroke="#4D4D4D" stroke-width="0.22" textLength="106.9" lengthAdjust="spacing">United Republic of Tanzania</text>
<line x1="132.3" y1="256.88" x2="134.8" y2="256.88" stroke="#7F7F7F" stroke-width="1"/>
<text x="129.5" y="261.48" text-anchor="end" font-size="8.3" fill="#4D4D4D" stroke="#4D4D4D" stroke-width="0.22" textLength="17.1" lengthAdjust="spacing">Peru</text>
<line x1="132.3" y1="269.44" x2="134.8" y2="269.44" stroke="#7F7F7F" stroke-width="1"/>
<text x="130.2" y="274.04" text-anchor="end" font-size="8.3" fill="#4D4D4D" stroke="#4D4D4D" stroke-width="0.22" textLength="26.4" lengthAdjust="spacing">Angola</text>
<line x1="149.5" y1="72.2" x2="149.5" y2="74.8" stroke="#7F7F7F" stroke-width="1"/>
<text x="150" y="83.6" text-anchor="middle" font-size="8.8" fill="#4D4D4D" stroke="#4D4D4D" stroke-width="0.15" textLength="13.6" lengthAdjust="spacingAndGlyphs">0%</text>
<line x1="225.5" y1="72.2" x2="225.5" y2="74.8" stroke="#7F7F7F" stroke-width="1"/>
<text x="226" y="83.6" text-anchor="middle" font-size="8.8" fill="#4D4D4D" stroke="#4D4D4D" stroke-width="0.15" textLength="18.0" lengthAdjust="spacingAndGlyphs">25%</text>
<line x1="301.5" y1="72.2" x2="301.5" y2="74.8" stroke="#7F7F7F" stroke-width="1"/>
<text x="302" y="83.6" text-anchor="middle" font-size="8.8" fill="#4D4D4D" stroke="#4D4D4D" stroke-width="0.15" textLength="18.0" lengthAdjust="spacingAndGlyphs">50%</text>
<line x1="377.5" y1="72.2" x2="377.5" y2="74.8" stroke="#7F7F7F" stroke-width="1"/>
<text x="378" y="83.6" text-anchor="middle" font-size="8.8" fill="#4D4D4D" stroke="#4D4D4D" stroke-width="0.15" textLength="18.0" lengthAdjust="spacingAndGlyphs">75%</text>
<line x1="453.5" y1="72.2" x2="453.5" y2="74.8" stroke="#7F7F7F" stroke-width="1"/>
<text x="454" y="83.6" text-anchor="middle" font-size="8.8" fill="#4D4D4D" stroke="#4D4D4D" stroke-width="0.15" textLength="23.4" lengthAdjust="spacingAndGlyphs">100%</text>
<line x1="149.5" y1="277.4" x2="149.5" y2="280" stroke="#7F7F7F" stroke-width="1"/>
<text x="150" y="289.0" text-anchor="middle" font-size="8.8" fill="#4D4D4D" stroke="#4D4D4D" stroke-width="0.15" textLength="13.6" lengthAdjust="spacingAndGlyphs">0%</text>
<line x1="225.7" y1="277.4" x2="225.7" y2="280" stroke="#7F7F7F" stroke-width="1"/>
<text x="226.2" y="289.0" text-anchor="middle" font-size="8.8" fill="#4D4D4D" stroke="#4D4D4D" stroke-width="0.15" textLength="18.0" lengthAdjust="spacingAndGlyphs">25%</text>
<line x1="301.9" y1="277.4" x2="301.9" y2="280" stroke="#7F7F7F" stroke-width="1"/>
<text x="302.4" y="289.0" text-anchor="middle" font-size="8.8" fill="#4D4D4D" stroke="#4D4D4D" stroke-width="0.15" textLength="18.0" lengthAdjust="spacingAndGlyphs">50%</text>
<line x1="378.1" y1="277.4" x2="378.1" y2="280" stroke="#7F7F7F" stroke-width="1"/>
<text x="378.6" y="289.0" text-anchor="middle" font-size="8.8" fill="#4D4D4D" stroke="#4D4D4D" stroke-width="0.15" textLength="18.0" lengthAdjust="spacingAndGlyphs">75%</text>
<line x1="454.3" y1="277.4" x2="454.3" y2="280" stroke="#7F7F7F" stroke-width="1"/>
<text x="454.8" y="289.0" text-anchor="middle" font-size="8.8" fill="#4D4D4D" stroke="#4D4D4D" stroke-width="0.15" textLength="23.4" lengthAdjust="spacingAndGlyphs">100%</text>
<line x1="485.6" y1="8.4" x2="600.7" y2="8.4" stroke="#EFEFEF" stroke-width="0.6"/>
<line x1="485.6" y1="22.3" x2="600.7" y2="22.3" stroke="#EFEFEF" stroke-width="0.6"/>
<line x1="485.6" y1="36.2" x2="600.7" y2="36.2" stroke="#EFEFEF" stroke-width="0.6"/>
<line x1="485.6" y1="50.1" x2="600.7" y2="50.1" stroke="#EFEFEF" stroke-width="0.6"/>
<line x1="485.6" y1="64" x2="600.7" y2="64" stroke="#EFEFEF" stroke-width="0.6"/>
<line x1="490.9" y1="0.3" x2="490.9" y2="72.2" stroke="#EFEFEF" stroke-width="0.6"/>
<line x1="510.8" y1="0.3" x2="510.8" y2="72.2" stroke="#EFEFEF" stroke-width="0.6"/>
<line x1="530.7" y1="0.3" x2="530.7" y2="72.2" stroke="#EFEFEF" stroke-width="0.6"/>
<line x1="550.6" y1="0.3" x2="550.6" y2="72.2" stroke="#EFEFEF" stroke-width="0.6"/>
<line x1="570.5" y1="0.3" x2="570.5" y2="72.2" stroke="#EFEFEF" stroke-width="0.6"/>
<line x1="590.4" y1="0.3" x2="590.4" y2="72.2" stroke="#EFEFEF" stroke-width="0.6"/>
<rect x="490.9" y="2.2" width="40.3" height="12.4" fill="#FB9A99"/>
<rect x="531.2" y="2.2" width="19.4" height="12.4" fill="#2E8B57"/>
<rect x="550.6" y="2.2" width="5.2" height="12.4" fill="#D2B48C"/>
<rect x="555.8" y="2.2" width="40.3" height="12.4" fill="#D3D3D3"/>
<rect x="490.9" y="16.1" width="1.9" height="12.4" fill="#FB9A99"/>
<rect x="492.8" y="16.1" width="22" height="12.4" fill="#2E8B57"/>
<rect x="514.8" y="16.1" width="9" height="12.4" fill="#D2B48C"/>
<rect x="523.8" y="16.1" width="17.2" height="12.4" fill="#D3D3D3"/>
<rect x="490.9" y="30" width="5.7" height="12.4" fill="#FB9A99"/>
<rect x="496.6" y="30" width="14.7" height="12.4" fill="#2E8B57"/>
<rect x="511.3" y="30" width="1" height="12.4" fill="#D2B48C"/>
<rect x="512.3" y="30" width="19.9" height="12.4" fill="#D3D3D3"/>
<rect x="490.9" y="43.9" width="0.5" height="12.4" fill="#FB9A99"/>
<rect x="491.4" y="43.9" width="0.2" height="12.4" fill="#2E8B57"/>
<rect x="491.6" y="43.9" width="0.6" height="12.4" fill="#D2B48C"/>
<rect x="492.2" y="43.9" width="1.2" height="12.4" fill="#D3D3D3"/>
<rect x="490.9" y="57.8" width="0.3" height="12.4" fill="#FB9A99"/>
<rect x="491.2" y="57.8" width="0.7" height="12.4" fill="#D2B48C"/>
<rect x="485.6" y="0.3" width="115.1" height="71.9" fill="none" stroke="#7F7F7F" stroke-width="1.1"/>
<line x1="490.9" y1="72.2" x2="490.9" y2="74.8" stroke="#7F7F7F" stroke-width="1"/>
<text x="490.9" y="83.3" text-anchor="middle" font-size="8.5" fill="#4D4D4D">0</text>
<line x1="530.7" y1="72.2" x2="530.7" y2="74.8" stroke="#7F7F7F" stroke-width="1"/>
<text x="530.7" y="83.3" text-anchor="middle" font-size="8.5" fill="#4D4D4D">2</text>
<line x1="570.5" y1="72.2" x2="570.5" y2="74.8" stroke="#7F7F7F" stroke-width="1"/>
<text x="570.5" y="83.3" text-anchor="middle" font-size="8.5" fill="#4D4D4D">4</text>
<line x1="485.6" y1="93.6" x2="600.7" y2="93.6" stroke="#EFEFEF" stroke-width="0.6"/>
<line x1="485.6" y1="106.16" x2="600.7" y2="106.16" stroke="#EFEFEF" stroke-width="0.6"/>
<line x1="485.6" y1="118.72" x2="600.7" y2="118.72" stroke="#EFEFEF" stroke-width="0.6"/>
<line x1="485.6" y1="131.28" x2="600.7" y2="131.28" stroke="#EFEFEF" stroke-width="0.6"/>
<line x1="485.6" y1="143.84" x2="600.7" y2="143.84" stroke="#EFEFEF" stroke-width="0.6"/>
<line x1="485.6" y1="156.4" x2="600.7" y2="156.4" stroke="#EFEFEF" stroke-width="0.6"/>
<line x1="485.6" y1="168.96" x2="600.7" y2="168.96" stroke="#EFEFEF" stroke-width="0.6"/>
<line x1="485.6" y1="181.52" x2="600.7" y2="181.52" stroke="#EFEFEF" stroke-width="0.6"/>
<line x1="485.6" y1="194.08" x2="600.7" y2="194.08" stroke="#EFEFEF" stroke-width="0.6"/>
<line x1="485.6" y1="206.64" x2="600.7" y2="206.64" stroke="#EFEFEF" stroke-width="0.6"/>
<line x1="485.6" y1="219.2" x2="600.7" y2="219.2" stroke="#EFEFEF" stroke-width="0.6"/>
<line x1="485.6" y1="231.76" x2="600.7" y2="231.76" stroke="#EFEFEF" stroke-width="0.6"/>
<line x1="485.6" y1="244.32" x2="600.7" y2="244.32" stroke="#EFEFEF" stroke-width="0.6"/>
<line x1="485.6" y1="256.88" x2="600.7" y2="256.88" stroke="#EFEFEF" stroke-width="0.6"/>
<line x1="485.6" y1="269.44" x2="600.7" y2="269.44" stroke="#EFEFEF" stroke-width="0.6"/>
<line x1="490.9" y1="86.3" x2="490.9" y2="277.4" stroke="#EFEFEF" stroke-width="0.6"/>
<line x1="508.05" y1="86.3" x2="508.05" y2="277.4" stroke="#EFEFEF" stroke-width="0.6"/>
<line x1="525.2" y1="86.3" x2="525.2" y2="277.4" stroke="#EFEFEF" stroke-width="0.6"/>
<line x1="542.35" y1="86.3" x2="542.35" y2="277.4" stroke="#EFEFEF" stroke-width="0.6"/>
<line x1="559.5" y1="86.3" x2="559.5" y2="277.4" stroke="#EFEFEF" stroke-width="0.6"/>
<line x1="576.65" y1="86.3" x2="576.65" y2="277.4" stroke="#EFEFEF" stroke-width="0.6"/>
<line x1="593.8" y1="86.3" x2="593.8" y2="277.4" stroke="#EFEFEF" stroke-width="0.6"/>
<rect x="490.9" y="87.95" width="46.6" height="11.3" fill="#FB9A99"/>
<rect x="537.5" y="87.95" width="13.6" height="11.3" fill="#2E8B57"/>
<rect x="551.1" y="87.95" width="4.5" height="11.3" fill="#D2B48C"/>
<rect x="555.6" y="87.95" width="39.6" height="11.3" fill="#D3D3D3"/>
<rect x="490.9" y="100.51" width="0.4" height="11.3" fill="#FB9A99"/>
<rect x="491.3" y="100.51" width="18.8" height="11.3" fill="#2E8B57"/>
<rect x="510.1" y="100.51" width="8.2" height="11.3" fill="#D2B48C"/>
<rect x="518.3" y="100.51" width="9.4" height="11.3" fill="#D3D3D3"/>
<rect x="490.9" y="113.07" width="1.3" height="11.3" fill="#FB9A99"/>
<rect x="492.2" y="113.07" width="2.6" height="11.3" fill="#2E8B57"/>
<rect x="494.8" y="113.07" width="0.2" height="11.3" fill="#D2B48C"/>
<rect x="495" y="113.07" width="16.1" height="11.3" fill="#D3D3D3"/>
<rect x="490.9" y="125.63" width="5.6" height="11.3" fill="#FB9A99"/>
<rect x="496.5" y="125.63" width="7.4" height="11.3" fill="#2E8B57"/>
<rect x="503.9" y="125.63" width="0.2" height="11.3" fill="#D2B48C"/>
<rect x="504.1" y="125.63" width="0.8" height="11.3" fill="#D3D3D3"/>
<rect x="490.9" y="138.19" width="2.9" height="11.3" fill="#FB9A99"/>
<rect x="493.8" y="138.19" width="4.2" height="11.3" fill="#2E8B57"/>
<rect x="498" y="138.19" width="0.5" height="11.3" fill="#D2B48C"/>
<rect x="498.5" y="138.19" width="5.2" height="11.3" fill="#D3D3D3"/>
<rect x="490.9" y="150.75" width="1.4" height="11.3" fill="#FB9A99"/>
<rect x="492.3" y="150.75" width="2.2" height="11.3" fill="#2E8B57"/>
<rect x="494.5" y="150.75" width="0.2" height="11.3" fill="#D2B48C"/>
<rect x="494.7" y="150.75" width="6.1" height="11.3" fill="#D3D3D3"/>
<rect x="490.9" y="163.31" width="0.4" height="11.3" fill="#FB9A99"/>
<rect x="491.3" y="163.31" width="0.2" height="11.3" fill="#2E8B57"/>
<rect x="491.5" y="163.31" width="1.5" height="11.3" fill="#D2B48C"/>
<rect x="493" y="163.31" width="8" height="11.3" fill="#D3D3D3"/>
<rect x="490.9" y="175.87" width="4.3" height="11.3" fill="#FB9A99"/>
<rect x="495.2" y="175.87" width="0.8" height="11.3" fill="#2E8B57"/>
<rect x="496" y="175.87" width="0.3" height="11.3" fill="#D2B48C"/>
<rect x="496.3" y="175.87" width="2.7" height="11.3" fill="#D3D3D3"/>
<rect x="490.9" y="188.43" width="2.8" height="11.3" fill="#FB9A99"/>
<rect x="493.7" y="188.43" width="1.3" height="11.3" fill="#2E8B57"/>
<rect x="495" y="188.43" width="0.3" height="11.3" fill="#D2B48C"/>
<rect x="495.3" y="188.43" width="2.9" height="11.3" fill="#D3D3D3"/>
<rect x="490.9" y="200.99" width="0.2" height="11.3" fill="#FB9A99"/>
<rect x="491.1" y="200.99" width="4.1" height="11.3" fill="#2E8B57"/>
<rect x="495.2" y="200.99" width="0.4" height="11.3" fill="#D2B48C"/>
<rect x="495.6" y="200.99" width="2.2" height="11.3" fill="#D3D3D3"/>
<rect x="490.9" y="213.55" width="0.9" height="11.3" fill="#FB9A99"/>
<rect x="491.8" y="213.55" width="3.2" height="11.3" fill="#2E8B57"/>
<rect x="495" y="213.55" width="0.3" height="11.3" fill="#D2B48C"/>
<rect x="495.3" y="213.55" width="2.2" height="11.3" fill="#D3D3D3"/>
<rect x="490.9" y="226.11" width="0.6" height="11.3" fill="#FB9A99"/>
<rect x="491.5" y="226.11" width="2.5" height="11.3" fill="#2E8B57"/>
<rect x="494" y="226.11" width="0.3" height="11.3" fill="#D2B48C"/>
<rect x="494.3" y="226.11" width="2.2" height="11.3" fill="#D3D3D3"/>
<rect x="490.9" y="238.67" width="0.4" height="11.3" fill="#FB9A99"/>
<rect x="491.3" y="238.67" width="4.5" height="11.3" fill="#2E8B57"/>
<rect x="495.8" y="238.67" width="0.2" height="11.3" fill="#D2B48C"/>
<rect x="496" y="238.67" width="0.2" height="11.3" fill="#D3D3D3"/>
<rect x="490.9" y="251.23" width="2.1" height="11.3" fill="#FB9A99"/>
<rect x="493" y="251.23" width="2.5" height="11.3" fill="#2E8B57"/>
<rect x="495.5" y="251.23" width="0.5" height="11.3" fill="#D2B48C"/>
<rect x="490.9" y="263.79" width="1.1" height="11.3" fill="#FB9A99"/>
<rect x="492" y="263.79" width="3.2" height="11.3" fill="#2E8B57"/>
<rect x="495.2" y="263.79" width="0.2" height="11.3" fill="#D2B48C"/>
<rect x="485.6" y="86.3" width="115.1" height="191.1" fill="none" stroke="#7F7F7F" stroke-width="1.1"/>
<line x1="490.9" y1="277.4" x2="490.9" y2="280" stroke="#7F7F7F" stroke-width="1"/>
<text x="490.9" y="288.6" text-anchor="middle" font-size="8.5" fill="#4D4D4D">0</text>
<line x1="525.2" y1="277.4" x2="525.2" y2="280" stroke="#7F7F7F" stroke-width="1"/>
<text x="525.2" y="288.6" text-anchor="middle" font-size="8.5" fill="#4D4D4D">1</text>
<line x1="559.5" y1="277.4" x2="559.5" y2="280" stroke="#7F7F7F" stroke-width="1"/>
<text x="559.5" y="288.6" text-anchor="middle" font-size="8.5" fill="#4D4D4D">2</text>
<line x1="593.8" y1="277.4" x2="593.8" y2="280" stroke="#7F7F7F" stroke-width="1"/>
<text x="593.8" y="288.6" text-anchor="middle" font-size="8.5" fill="#4D4D4D">3</text>
<text x="543.6" y="300.3" text-anchor="middle" font-size="8.6" fill="#1a1a1a" stroke="#1a1a1a" stroke-width="0.18" textLength="87" lengthAdjust="spacingAndGlyphs">Forest loss 2005–2013</text>
<text x="523.4" y="309.8" font-size="8.6" fill="#1a1a1a" stroke="#1a1a1a" stroke-width="0.18" letter-spacing="0.35">(Mha yr<tspan font-size="6" dy="-3.2">-1</tspan><tspan dy="3.2">)</tspan></text>
<text x="3.4" y="11.7" font-family="'Liberation Serif', serif" font-size="19" fill="#000" stroke="#000" stroke-width="0.3">a</text>
<text x="473.4" y="14.4" font-family="'Liberation Serif', serif" font-size="19" fill="#000" stroke="#000" stroke-width="0.3">b</text>
<text x="3" y="97.6" font-family="'Liberation Serif', serif" font-size="19" fill="#000" stroke="#000" stroke-width="0.3">c</text>
<text x="472.6" y="97.6" font-family="'Liberation Serif', serif" font-size="19" fill="#000" stroke="#000" stroke-width="0.3">d</text>
<rect x="143" y="302.2" width="12.8" height="12.8" fill="#FB9A99" stroke="#505050" stroke-width="0.6"/>
<text x="157.7" y="312.3" font-size="7.4" letter-spacing="0.15" fill="#1a1a1a" stroke="#1a1a1a" stroke-width="0.18">Cattle meat</text>
<rect x="143" y="316" width="12.8" height="12.8" fill="#E31A1C" stroke="#505050" stroke-width="0.6"/>
<text x="157.7" y="326.1" font-size="7.4" letter-spacing="0.15" fill="#1a1a1a" stroke="#1a1a1a" stroke-width="0.18">Palm oil</text>
<rect x="143" y="329.8" width="12.8" height="12.8" fill="#FDBF6F" stroke="#505050" stroke-width="0.6"/>
<text x="157.7" y="339.9" font-size="7.4" letter-spacing="0.15" fill="#1a1a1a" stroke="#1a1a1a" stroke-width="0.18">Soybeans</text>
<rect x="200.1" y="302.2" width="12.8" height="12.8" fill="#FF7F00" stroke="#505050" stroke-width="0.6"/>
<text x="214.8" y="312.3" font-size="7.4" letter-spacing="0.15" fill="#1a1a1a" stroke="#1a1a1a" stroke-width="0.18">Other oilseeds</text>
<rect x="200.1" y="316" width="12.8" height="12.8" fill="#CAB2D6" stroke="#505050" stroke-width="0.6"/>
<text x="214.8" y="326.1" font-size="7.4" letter-spacing="0.15" fill="#1a1a1a" stroke="#1a1a1a" stroke-width="0.18">Pulses</text>
<rect x="200.1" y="329.8" width="12.8" height="12.8" fill="#6A3D9A" stroke="#505050" stroke-width="0.6"/>
<text x="214.8" y="339.9" font-size="7.4" letter-spacing="0.15" fill="#1a1a1a" stroke="#1a1a1a" stroke-width="0.18">Roots &amp; tubers</text>
<rect x="269.4" y="302.2" width="12.8" height="12.8" fill="#FFFF99" stroke="#505050" stroke-width="0.6"/>
<text x="284.1" y="312.3" font-size="7.4" letter-spacing="0.15" fill="#1a1a1a" stroke="#1a1a1a" stroke-width="0.18">Vegetables</text>
<rect x="269.4" y="316" width="12.8" height="12.8" fill="#A6CEE3" stroke="#505050" stroke-width="0.6"/>
<text x="284.1" y="326.1" font-size="7.4" letter-spacing="0.15" fill="#1a1a1a" stroke="#1a1a1a" stroke-width="0.18">Fruit</text>
<rect x="269.4" y="329.8" width="12.8" height="12.8" fill="#1F78B4" stroke="#505050" stroke-width="0.6"/>
<text x="284.1" y="339.9" font-size="7.4" letter-spacing="0.15" fill="#1a1a1a" stroke="#1a1a1a" stroke-width="0.18">Tree nuts</text>
<rect x="325.5" y="302.2" width="12.8" height="12.8" fill="#B2DF8A" stroke="#505050" stroke-width="0.6"/>
<text x="340.2" y="312.3" font-size="7.4" letter-spacing="0.15" fill="#1a1a1a" stroke="#1a1a1a" stroke-width="0.18">Rice</text>
<rect x="325.5" y="316" width="12.8" height="12.8" fill="#33A02C" stroke="#505050" stroke-width="0.6"/>
<text x="340.2" y="326.1" font-size="7.4" letter-spacing="0.15" fill="#1a1a1a" stroke="#1a1a1a" stroke-width="0.18">Other cereals</text>
<rect x="325.5" y="329.8" width="12.8" height="12.8" fill="#F2DADA" stroke="#505050" stroke-width="0.6"/>
<text x="340.2" y="339.9" font-size="7.4" letter-spacing="0.15" fill="#1a1a1a" stroke="#1a1a1a" stroke-width="0.18">Other crops</text>
<rect x="389" y="302.2" width="12.8" height="12.8" fill="#8B5428" stroke="#505050" stroke-width="0.6"/>
<text x="403.7" y="312.3" font-size="7.4" letter-spacing="0.15" fill="#1a1a1a" stroke="#1a1a1a" stroke-width="0.18">Fibre crops</text>
<rect x="389" y="316" width="12.8" height="12.8" fill="#D2B48C" stroke="#505050" stroke-width="0.6"/>
<text x="403.7" y="326.1" font-size="7.4" letter-spacing="0.15" fill="#1a1a1a" stroke="#1a1a1a" stroke-width="0.18">Forestry products</text>
<rect x="486.5" y="315.8" width="12.8" height="12.8" fill="#FB9A99"/>
<text x="501.3" y="325.6" font-size="7.5" letter-spacing="0.15" fill="#1a1a1a" stroke="#1a1a1a" stroke-width="0.18">Pasture</text>
<rect x="486.5" y="329.6" width="12.8" height="12.8" fill="#2E8B57"/>
<text x="501.3" y="339.4" font-size="7.5" letter-spacing="0.15" fill="#1a1a1a" stroke="#1a1a1a" stroke-width="0.18">Cropland</text>
<rect x="534.4" y="315.8" width="12.8" height="12.8" fill="#D2B48C"/>
<text x="549.2" y="325.6" font-size="7.5" letter-spacing="0.15" fill="#1a1a1a" stroke="#1a1a1a" stroke-width="0.18">Tree plantations</text>
<rect x="534.4" y="329.6" width="12.8" height="12.8" fill="#D3D3D3"/>
<text x="549.2" y="339.4" font-size="7.5" letter-spacing="0.15" fill="#1a1a1a" stroke="#1a1a1a" stroke-width="0.18">Other</text>
</svg>
</body></html>
